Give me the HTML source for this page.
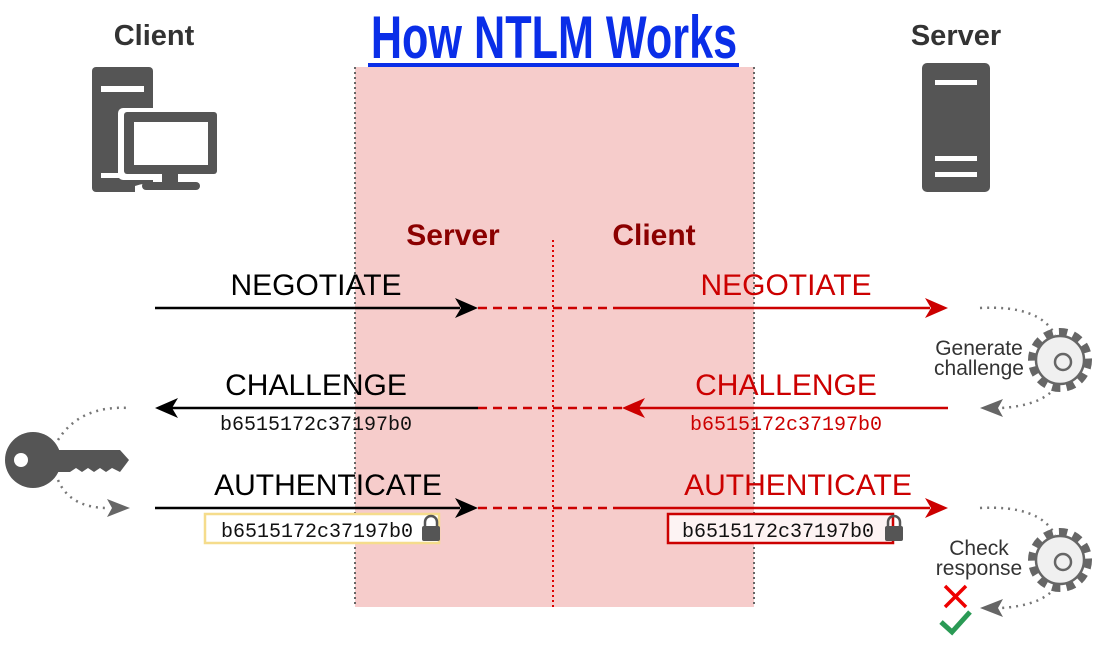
<!DOCTYPE html>
<html><head><meta charset="utf-8"><style>
html,body{margin:0;padding:0;background:#fff;}
svg{display:block}
text{font-family:"Liberation Sans",sans-serif}
.m{font-family:"Liberation Mono",monospace;font-size:20px}
</style></head><body>
<svg width="1109" height="653" viewBox="0 0 1109 653" xmlns="http://www.w3.org/2000/svg">
<defs>
<g id="gear">
<circle cx="0" cy="0" r="27" fill="none" stroke="#666" stroke-width="10" stroke-dasharray="8 6"/>
<circle cx="0" cy="0" r="24" fill="#f0f0f0" stroke="#666" stroke-width="2.5"/>
<circle cx="3" cy="2" r="8" fill="none" stroke="#666" stroke-width="2.5"/>
</g>
</defs>
<rect x="355" y="67" width="399" height="540" fill="#f6cccb"/>
<line x1="355" y1="67" x2="355" y2="607" stroke="#666" stroke-width="2" stroke-dasharray="2 3"/>
<line x1="754" y1="67" x2="754" y2="607" stroke="#666" stroke-width="2" stroke-dasharray="2 3"/>
<line x1="553" y1="240" x2="553" y2="607" stroke="#d00" stroke-width="2" stroke-dasharray="2 3"/>
<text x="554" y="58" text-anchor="middle" font-size="60" font-weight="bold" fill="#0a2ee8" transform="translate(554,0) scale(0.72,1) translate(-554,0)" style="font-family:'Liberation Sans Narrow','Liberation Sans',sans-serif">How NTLM Works</text>
<rect x="368" y="63" width="371" height="4" fill="#0a2ee8"/>
<text x="154" y="45" text-anchor="middle" font-size="29" font-weight="bold" fill="#333">Client</text>
<text x="956" y="45" text-anchor="middle" font-size="29" font-weight="bold" fill="#333">Server</text>
<text x="453" y="245" text-anchor="middle" font-size="30" font-weight="bold" fill="#8b0000">Server</text>
<text x="654" y="245" text-anchor="middle" font-size="30" font-weight="bold" fill="#8b0000">Client</text>
<!-- client icon -->
<rect x="92" y="67" width="61" height="125" rx="4" fill="#555"/>
<rect x="101" y="86" width="43" height="6" fill="#fff"/>
<rect x="101" y="173" width="20" height="5" fill="#fff"/>
<rect x="118" y="108" width="102" height="72" rx="5" fill="#fff"/>
<path d="M135,192 L135,186 Q160,178 200,186 L200,192 Z" fill="#fff"/>
<rect x="124" y="112" width="93" height="62" rx="3" fill="#555"/>
<rect x="134" y="122" width="74" height="43" fill="#fff"/>
<rect x="162" y="172" width="16" height="12" fill="#555"/>
<rect x="142" y="182" width="58" height="8" rx="4" fill="#555"/>
<!-- server icon -->
<rect x="922" y="63" width="68" height="129" rx="5" fill="#555"/>
<rect x="935" y="80" width="42" height="5" fill="#fff"/>
<rect x="935" y="156" width="42" height="5" fill="#fff"/>
<rect x="935" y="172" width="42" height="5" fill="#fff"/>
<!-- row 1 -->
<text x="316" y="295" text-anchor="middle" font-size="30" fill="#000">NEGOTIATE</text>
<text x="786" y="295" text-anchor="middle" font-size="30" fill="#c00">NEGOTIATE</text>
<line x1="155" y1="308" x2="460" y2="308" stroke="#000" stroke-width="2.5"/>
<path d="M478,308 L455,298 L461,308 L455,318 Z" fill="#000"/>
<line x1="478" y1="308" x2="615" y2="308" stroke="#c00" stroke-width="2.5" stroke-dasharray="9 6"/>
<line x1="615" y1="308" x2="930" y2="308" stroke="#c00" stroke-width="2.5"/>
<path d="M948,308 L925,298 L931,308 L925,318 Z" fill="#c00"/>
<!-- row 2 -->
<text x="316" y="395" text-anchor="middle" font-size="30" fill="#000">CHALLENGE</text>
<text x="786" y="395" text-anchor="middle" font-size="30" fill="#c00">CHALLENGE</text>
<line x1="172" y1="408" x2="478" y2="408" stroke="#000" stroke-width="2.5"/>
<path d="M155,408 L178,398 L172,408 L178,418 Z" fill="#000"/>
<line x1="478" y1="408" x2="622" y2="408" stroke="#c00" stroke-width="2.5" stroke-dasharray="9 6"/>
<line x1="638" y1="408" x2="948" y2="408" stroke="#c00" stroke-width="2.5"/>
<path d="M622,408 L645,398 L639,408 L645,418 Z" fill="#c00"/>
<text x="316" y="430" text-anchor="middle" class="m" fill="#111">b6515172c37197b0</text>
<text x="786" y="430" text-anchor="middle" class="m" fill="#c00">b6515172c37197b0</text>
<!-- row 3 -->
<text x="328" y="495" text-anchor="middle" font-size="30" fill="#000">AUTHENTICATE</text>
<text x="798" y="495" text-anchor="middle" font-size="30" fill="#c00">AUTHENTICATE</text>
<line x1="155" y1="508" x2="460" y2="508" stroke="#000" stroke-width="2.5"/>
<path d="M478,508 L455,498 L461,508 L455,518 Z" fill="#000"/>
<line x1="478" y1="508" x2="615" y2="508" stroke="#c00" stroke-width="2.5" stroke-dasharray="9 6"/>
<line x1="615" y1="508" x2="930" y2="508" stroke="#c00" stroke-width="2.5"/>
<path d="M948,508 L925,498 L931,508 L925,518 Z" fill="#c00"/>
<rect x="205" y="514" width="234" height="29" fill="#fff" stroke="#f5dc8c" stroke-width="2.5"/>
<rect x="668" y="514" width="225" height="29" fill="#fdf3f3" stroke="#c00" stroke-width="2.5"/>
<text x="317" y="537" text-anchor="middle" class="m" fill="#111">b6515172c37197b0</text>
<text x="778" y="537" text-anchor="middle" class="m" fill="#111">b6515172c37197b0</text>
<g fill="#555"><path d="M425,527 v-5 a6,6 0 0 1 12,0 v5" fill="none" stroke="#555" stroke-width="2.5"/><rect x="422" y="526" width="18" height="15" rx="2"/></g>
<g fill="#555"><path d="M888,527 v-5 a6,6 0 0 1 12,0 v5" fill="none" stroke="#555" stroke-width="2.5"/><rect x="885" y="526" width="18" height="15" rx="2"/></g>
<!-- key -->
<circle cx="33" cy="460" r="28" fill="#555"/>
<circle cx="21" cy="460" r="7" fill="#fff"/>
<path d="M55,450 L120,450 L129,460 L120,472 L112,468 L106,472 L100,468 L94,472 L88,468 L82,472 L76,468 L70,472 L55,472 Z" fill="#555"/>
<path d="M58,440 Q80,405 130,408" fill="none" stroke="#777" stroke-width="2.5" stroke-dasharray="2 5"/>
<path d="M58,480 Q70,508 108,508" fill="none" stroke="#777" stroke-width="2.5" stroke-dasharray="2 5"/>
<path d="M130,508 L107,499 L112,508 L107,517 Z" fill="#666"/>
<!-- gears right -->
<path d="M980,308 Q1040,305 1055,335" fill="none" stroke="#777" stroke-width="2.5" stroke-dasharray="2 5"/>
<path d="M1055,388 Q1040,406 1000,408" fill="none" stroke="#777" stroke-width="2.5" stroke-dasharray="2 5"/>
<path d="M980,408 L1003,399 L998,408 L1003,417 Z" fill="#666"/>
<use href="#gear" transform="translate(1060,360)"/>
<text x="979" y="355" text-anchor="middle" font-size="21" fill="#333">Generate</text>
<text x="979" y="375" text-anchor="middle" font-size="21" fill="#333">challenge</text>
<path d="M980,508 Q1040,505 1055,535" fill="none" stroke="#777" stroke-width="2.5" stroke-dasharray="2 5"/>
<path d="M1055,588 Q1040,606 1000,608" fill="none" stroke="#777" stroke-width="2.5" stroke-dasharray="2 5"/>
<path d="M980,608 L1003,599 L998,608 L1003,617 Z" fill="#666"/>
<use href="#gear" transform="translate(1060,560)"/>
<text x="979" y="555" text-anchor="middle" font-size="21" fill="#333">Check</text>
<text x="979" y="575" text-anchor="middle" font-size="21" fill="#333">response</text>
<path d="M945,586 L966,607 M966,586 L945,607" stroke="#e00" stroke-width="3.5"/>
<path d="M941,622 L952,632 L970,612" fill="none" stroke="#2a9a55" stroke-width="5"/>
</svg>
</body></html>
